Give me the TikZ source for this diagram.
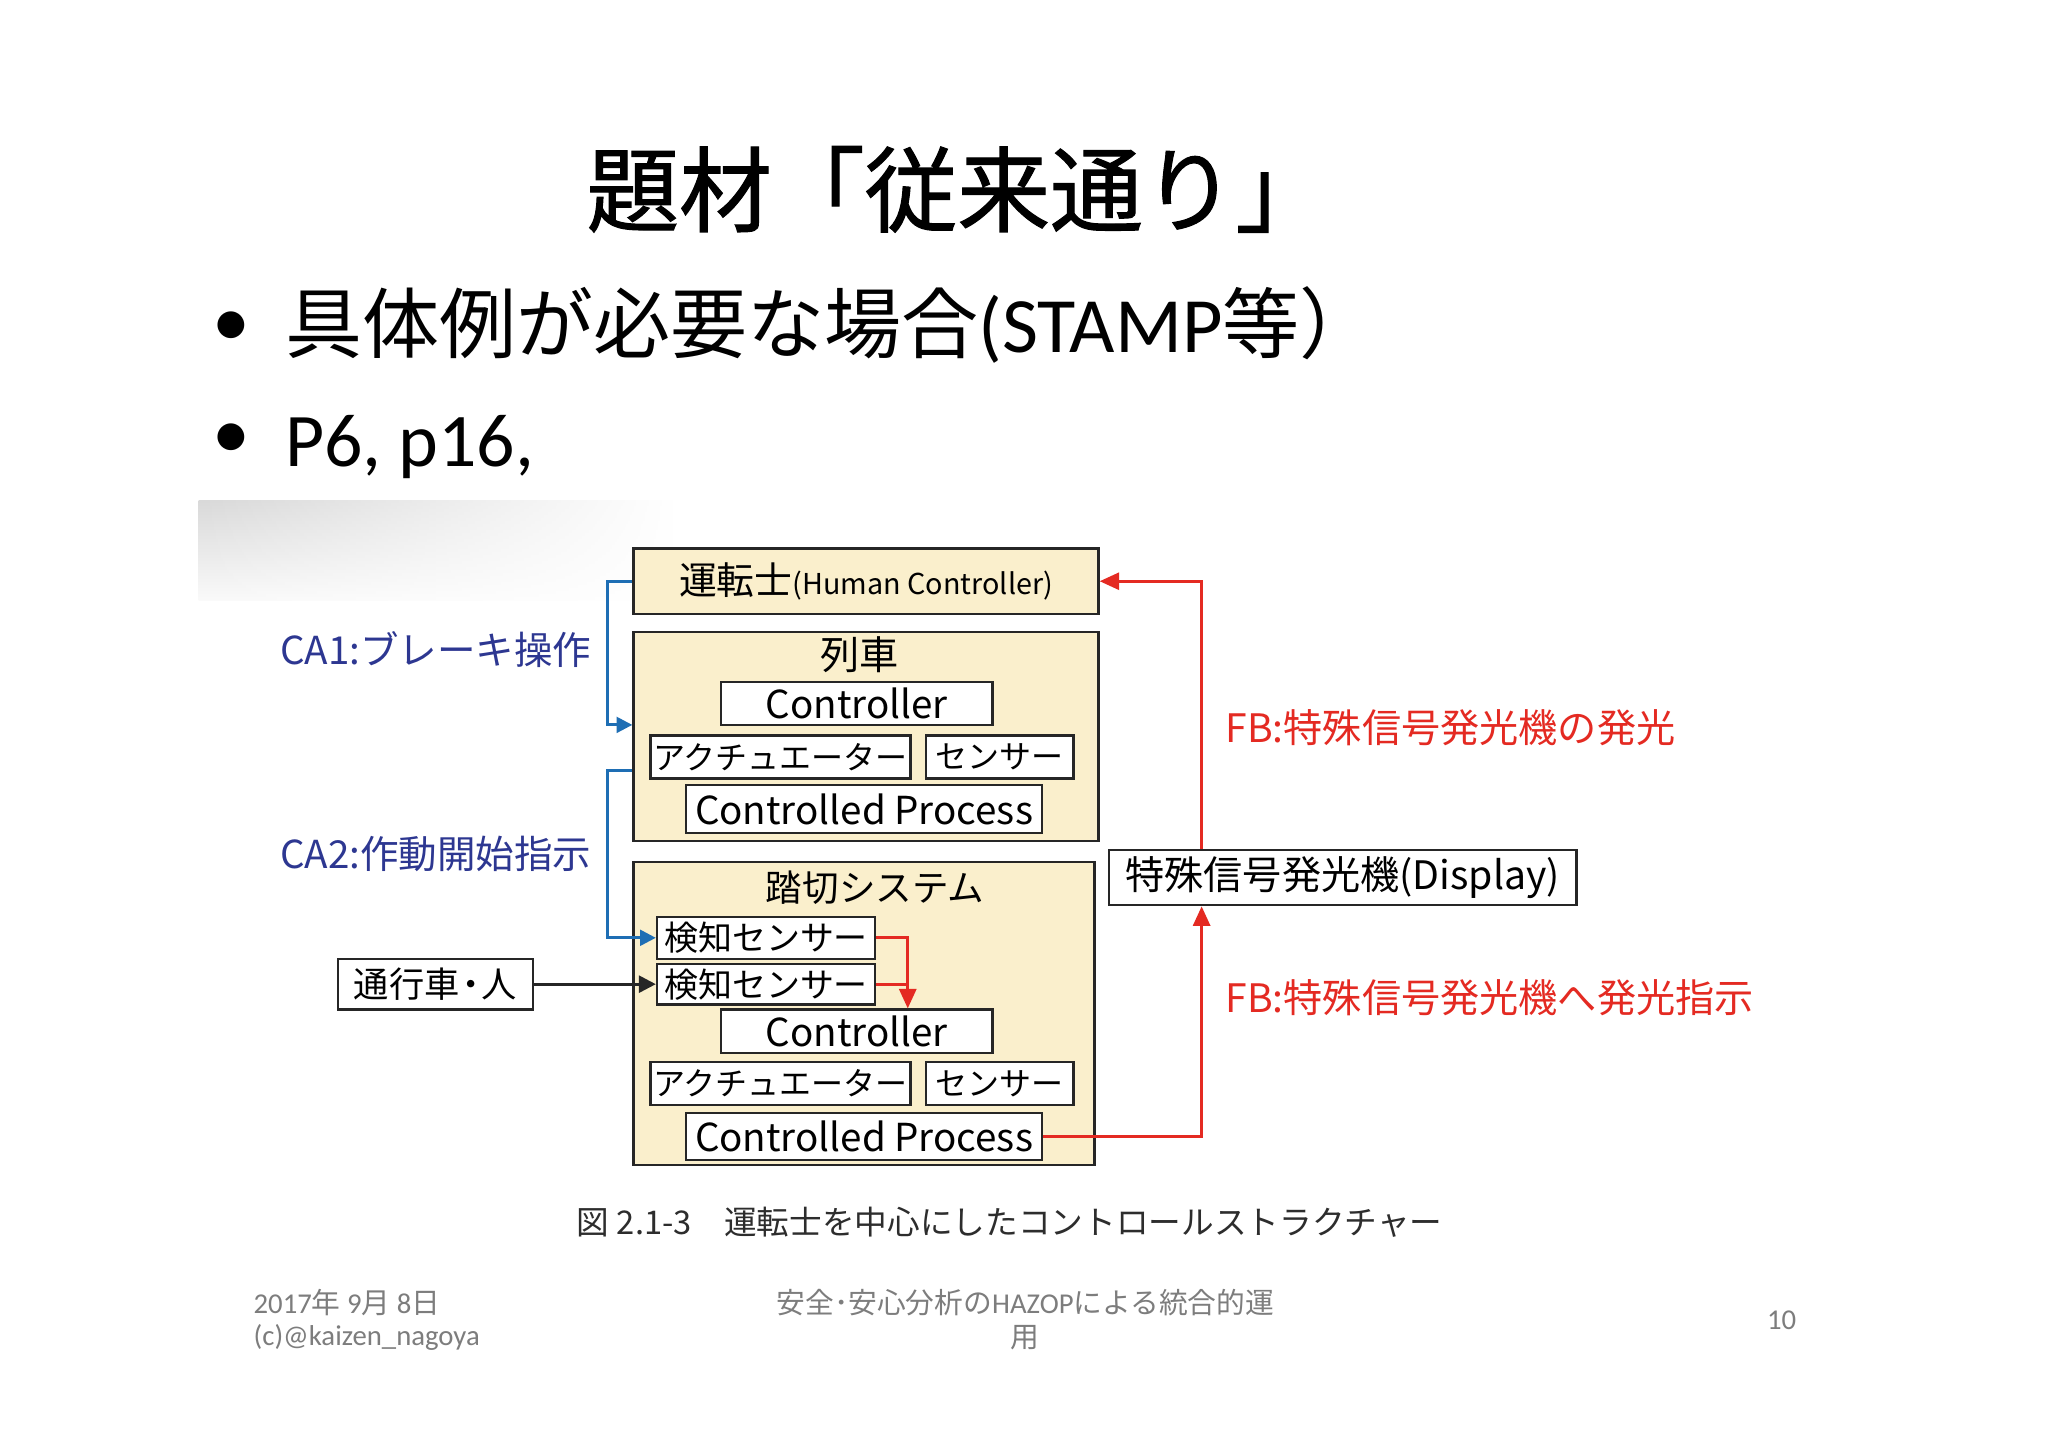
\documentclass[tikz,border=0pt]{standalone}
\usepackage{fontspec}
\setmainfont{Noto Sans CJK JP}
\newfontfamily\cjk{Noto Sans CJK JP}
\newfontfamily\titlefont[FakeBold=1.2]{Noto Sans CJK JP}
\newfontfamily\lat{Carlito}
\usetikzlibrary{arrows.meta,fadings}
\definecolor{beige}{RGB}{250,239,204}
\definecolor{fbred}{RGB}{228,42,34}
\definecolor{cablue}{RGB}{30,110,180}
\definecolor{catext}{RGB}{45,55,145}
\definecolor{foot}{RGB}{125,125,125}
\definecolor{capt}{RGB}{45,45,45}
\newcommand{\fs}[1]{\fontsize{#1}{#1}\selectfont}
\tikzfading[name=fadeR, left color=transparent!0, middle color=transparent!15, right color=transparent!100]
\tikzset{
  outerbox/.style={draw=black!85, line width=1.8pt, fill=beige, inner sep=0pt},
  innerbox/.style={draw=black!85, line width=1.8pt, fill=white, inner sep=0pt, font=\cjk\fs{26}},
  katabox/.style={innerbox, font=\cjk\fs{24.5}},
  latbox/.style={innerbox, font=\cjk\fs{29.5}},
  redline/.style={draw=fbred, line width=2.4pt},
  redarrow/.style={redline, -{Triangle[length=15pt,width=13pt]}},
  bluearrow/.style={draw=cablue, line width=2.2pt, -{Triangle[length=12pt,width=12pt]}},
  blackarrow/.style={draw=black!85, line width=2.2pt, -{Triangle[length=13pt,width=13pt]}},
  calabel/.style={text=catext, font=\cjk\fs{29.5}, inner sep=0pt},
  fblabel/.style={text=fbred, font=\cjk\fs{30}, inner sep=0pt},
  footer/.style={text=foot, inner sep=0pt}
}
\begin{document}
\begin{tikzpicture}[x=1pt,y=-1pt]
\useasboundingbox (0,0) rectangle (1568,1108);
\fill[white] (0,0) rectangle (1568,1108);

% faint shadow at top-left of the embedded figure
\shade[top color=black!15, bottom color=black!2, path fading=fadeR]
  (152,383) rectangle (515,460);

% title and bullets
\node[font=\titlefont\fs{71}, inner sep=0pt] (title) at (733,145) {題材「従来通り」};
\node[font=\lat\fs{58}, inner sep=0pt] (bul1) at (177,252) {•};
\node[font=\lat\fs{58}, inner sep=0pt] (bul2) at (177,338) {•};
\node[anchor=base west, inner sep=0pt, font=\cjk\fs{59}] (b1) at (218,270)
  {具体例が必要な場合{\lat\fs{60}(STAMP}等）};
\node[anchor=base west, inner sep=0pt, font=\lat\fs{58}] (b2) at (218,357) {P6, p16,};

% driver
\node[outerbox, minimum width=356pt, minimum height=50pt] (driver) at (663,445)
  {{\cjk\fs{29}運転士}{\cjk\fs{22}(Human Controller)}};

% train
\node[outerbox, minimum width=356pt, minimum height=160pt] (train) at (663,564) {};
\node[font=\cjk\fs{30}, inner sep=0pt] (traint) at (658,501) {列車};
\node[latbox, minimum width=208pt, minimum height=33pt] (tc) at (656,538.5) {Controller};
\node[katabox, minimum width=199pt, minimum height=33pt] (ta) at (597.5,579.5) {アクチュエーター};
\node[katabox, minimum width=113pt, minimum height=33pt] (ts) at (765.5,579.5) {センサー};
\node[latbox, minimum width=273pt, minimum height=37pt] (tp) at (661.5,619.5) {Controlled Process};

% crossing system
\node[outerbox, minimum width=353pt, minimum height=232pt] (cross) at (661.5,776) {};
\node[font=\cjk\fs{28}, inner sep=0pt] (crosst) at (670,680) {踏切システム};
\node[innerbox, minimum width=167pt, minimum height=32pt] (d1) at (586.5,718) {検知センサー};
\node[innerbox, minimum width=167pt, minimum height=31pt] (d2) at (586.5,753.5) {検知センサー};
\node[latbox, minimum width=208pt, minimum height=33pt] (rc) at (656,789.5) {Controller};
\node[katabox, minimum width=199pt, minimum height=33pt] (ra) at (597.5,829.5) {アクチュエーター};
\node[katabox, minimum width=113pt, minimum height=33pt] (rs) at (765.5,829.5) {センサー};
\node[latbox, minimum width=273pt, minimum height=36pt] (rp) at (661.5,870) {Controlled Process};

% traffic and display
\node[innerbox, font=\cjk\fs{27}, minimum width=149pt, minimum height=39pt] (traffic) at (333.5,753.5) {通行車\kern-5pt・\kern-5pt人};
\node[innerbox, font=\cjk\fs{30}, minimum width=358pt, minimum height=42pt] (display) at (1028,672) {特殊信号発光機(Display)};

% helper coordinates
\coordinate (y555) at (0,555);
\coordinate (y590) at (0,590);
\coordinate (xr) at (695,0);
\coordinate (xf) at (920,0);

% control actions (blue)
\draw[bluearrow] (driver.west) -- ++(-19,0) |- (train.west |- y555);
\draw[bluearrow] (train.west |- y590) -- ++(-19,0) |- (d1.west);
% traffic to sensor
\draw[blackarrow] (traffic.east) -- (d2.west);
% sensors to controller (red)
\draw[redarrow] (d1.east) -| (rc.north -| xr);
\draw[redline] (d2.east) -- (d2.east -| xr);
% feedback
\draw[redarrow] (rp.east) -| (display.south -| xf);
\draw[redarrow] (display.north -| xf) |- (driver.east);

% labels
\node[calabel, anchor=east] (ca1) at (453,497) {CA1:ブレーキ操作};
\node[calabel, anchor=east] (ca2) at (453,654) {CA2:作動開始指示};
\node[fblabel, anchor=west] (fb1) at (938,557) {FB:特殊信号発光機の発光};
\node[fblabel, anchor=west] (fb2) at (938,764) {FB:特殊信号発光機へ発光指示};

% caption
\node[text=capt, font=\cjk\fs{25}, inner sep=0pt] (caption) at (773,936) {図 2.1-3　運転士を中心にしたコントロールストラクチャー};

% footer
\node[footer, anchor=west, font=\lat\fs{22}] (date) at (194,997) {2017{\cjk 年} 9{\cjk 月} 8{\cjk 日}};
\node[footer, anchor=west, font=\lat\fs{22}] (author) at (194,1024) {(c)@kaizen\_nagoya};
\node[footer, font=\cjk\fs{22}] (ftitle1) at (785,997) {安全･安心分析の{\lat HAZOP}による統合的運};
\node[footer, font=\cjk\fs{22}] (ftitle2) at (785,1024) {用};
\node[footer, font=\lat\fs{22}] (page) at (1364,1011) {10};
\end{tikzpicture}
\end{document}
